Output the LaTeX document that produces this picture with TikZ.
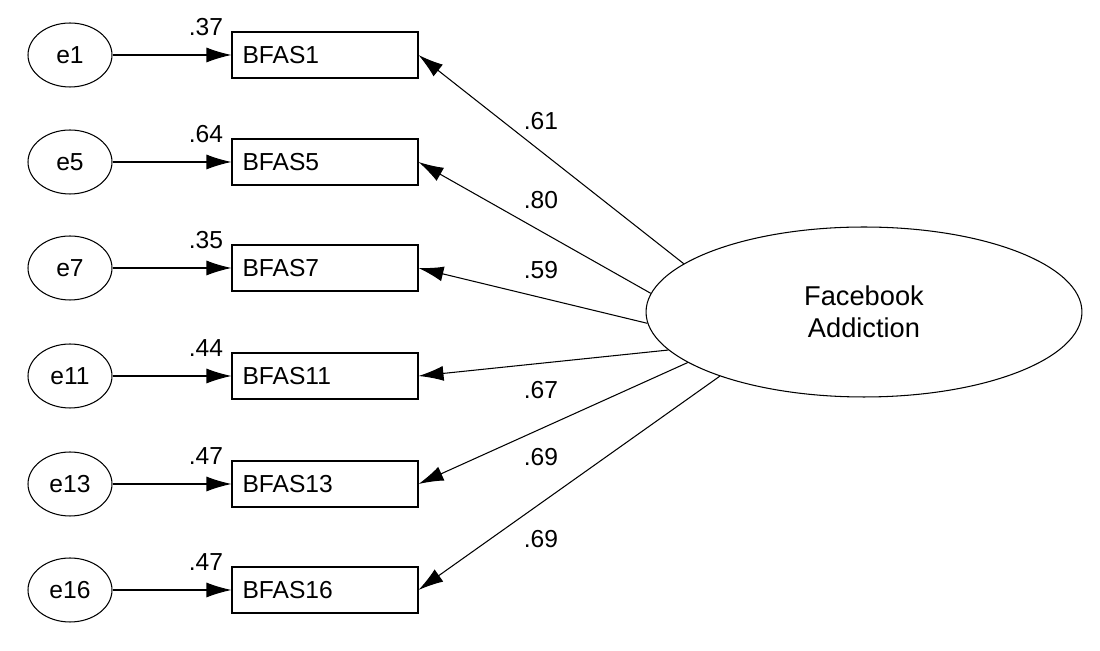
\documentclass[tikz,border=0pt]{standalone}
\usepackage{fontspec}
\setmainfont{Liberation Sans}
\usetikzlibrary{arrows.meta,shapes.geometric}
\begin{document}
\begin{tikzpicture}[x=0.02cm,y=-0.02cm,
  font=\fontsize{14}{17}\selectfont,
  err/.style={draw,ellipse,minimum width=1.68cm,minimum height=1.28cm,inner sep=0pt,line width=0.6pt},
  box/.style={draw,rectangle,minimum width=3.72cm,minimum height=0.92cm,inner sep=0pt,line width=0.6pt,text width=3.3cm,align=left},
  arr/.style={line width=0.6pt,-{Latex[length=0.5cm,width=0.3cm]}},
  lab/.style={inner sep=0pt}]
\useasboundingbox (0,0) rectangle (1100,651);
\node[draw,ellipse,minimum width=8.72cm,minimum height=3.4cm,line width=0.6pt,align=center,font=\fontsize{15.5}{18.5}\selectfont] (F) at (864,312) {Facebook\\Addiction};
\foreach \e/\b/\y/\r in {e1/BFAS1/55/.37,e5/BFAS5/162/.64,e7/BFAS7/268/.35,e11/BFAS11/376/.44,e13/BFAS13/484/.47,e16/BFAS16/590/.47}{
  \node[err] (\e) at (70,\y) {\e};
  \node[box] (\b) at (325,\y) {\b};
  \draw[arr] (\e) -- (\b);
  \node[lab] (r\e) at (206,\y-28) {\r};
}
\foreach \b/\a in {BFAS1/165,BFAS5/175,BFAS7/183,BFAS11/191,BFAS13/196,BFAS16/204}{\draw[arr] (F.\a) -- (\b.east);}
\node[lab] (l1) at (541,121) {.61};
\node[lab] (l5) at (541,200) {.80};
\node[lab] (l7) at (541,270) {.59};
\node[lab] (l11) at (541,390) {.67};
\node[lab] (l13) at (541,457) {.69};
\node[lab] (l16) at (541,539) {.69};
\end{tikzpicture}
\end{document}
